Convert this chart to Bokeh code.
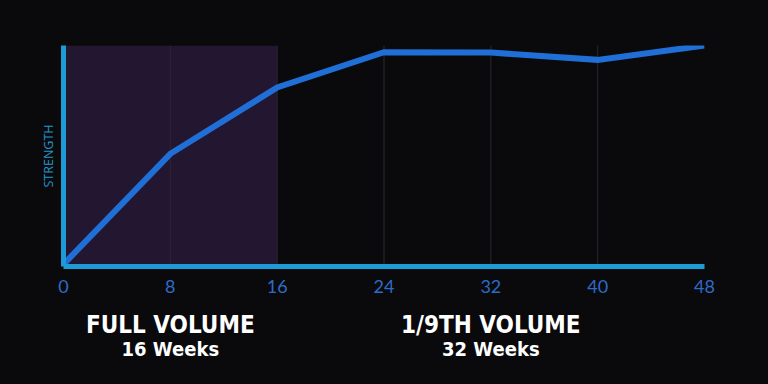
from bokeh.plotting import figure
from bokeh.layouts import column
from bokeh.models import FixedTicker, Range1d
from bokeh.core.properties import value
from bokeh.embed import file_html
from bokeh.resources import INLINE

weeks = [0, 8, 16, 24, 32, 40, 48]
strength = [1, 51, 81, 97, 96.8, 93.5, 100]
tick_labels = ["0", "8", "16", "24", "32", "40", "48"]
grid_weeks = [8, 16, 24, 32, 40]
phase_start = [0]
phase_end = [16]
phase_names = ["FULL VOLUME", "1/9TH VOLUME"]
phase_durations = ["16 Weeks", "32 Weeks"]
phase_centers = [8, 32]

BG = "#0a0a0c"
AXIS = "#1e9ad6"
LINE = "#1f6fd6"
PURPLE = "#231630"

xr = Range1d(0, 48)
p = figure(width=768, height=300, output_backend="svg", toolbar_location=None,
           x_range=xr, y_range=Range1d(0, 100),
           min_border_left=63, min_border_right=64, min_border_top=45, min_border_bottom=34)
p.background_fill_color = BG
p.border_fill_color = BG
p.outline_line_color = None
p.xgrid.visible = False
p.ygrid.visible = False

p.quad(left=phase_start, right=phase_end, bottom=[0], top=[100], fill_color=PURPLE, line_color=None)
p.segment(x0=grid_weeks, x1=grid_weeks, y0=[0]*len(grid_weeks), y1=[100]*len(grid_weeks),
          line_color="#2a2830", line_width=1)
p.line(weeks, strength, line_color=LINE, line_width=6, line_join="miter")

p.xaxis.ticker = FixedTicker(ticks=weeks)
p.xaxis.major_label_overrides = {w: t for w, t in zip(weeks, tick_labels)}
p.xaxis.axis_line_color = AXIS
p.xaxis.axis_line_width = 5
p.xaxis.major_tick_line_color = None
p.xaxis.minor_tick_line_color = None
p.xaxis.major_label_text_color = "#2c6cc8"
p.xaxis.major_label_text_font = "Lato"
p.xaxis.major_label_text_font_size = "18px"
p.xaxis.major_label_standoff = 7

p.yaxis.ticker = FixedTicker(ticks=[])
p.yaxis.axis_line_color = AXIS
p.yaxis.axis_line_width = 5
p.yaxis.major_tick_line_color = None
p.yaxis.minor_tick_line_color = None
p.yaxis.axis_label = "STRENGTH"
p.yaxis.axis_label_text_color = "#2096cc"
p.yaxis.axis_label_text_font = "Open Sans"
p.yaxis.axis_label_text_font_style = "normal"
p.yaxis.axis_label_text_font_size = "12.5px"
p.yaxis.axis_label_standoff = 7

p2 = figure(width=768, height=84, output_backend="svg", toolbar_location=None,
            x_range=xr, y_range=Range1d(0, 84),
            min_border_left=63, min_border_right=64, min_border_top=0, min_border_bottom=0)
p2.background_fill_color = BG
p2.border_fill_color = BG
p2.outline_line_color = None
p2.axis.visible = False
p2.grid.visible = False
p2.text(x=phase_centers, y=[60, 60], text=phase_names, text_align="center", text_baseline="middle",
        text_color="white", text_font=value("DejaVu Sans Condensed"), text_font_style="bold",
        text_font_size="24px")
p2.text(x=phase_centers, y=[36, 36], text=phase_durations, text_align="center", text_baseline="middle",
        text_color="white", text_font=value("DejaVu Sans Condensed"), text_font_style="bold",
        text_font_size="20px")

layout = column(p, p2, spacing=0, styles={"background": BG})
html = file_html(layout, INLINE)
html = html.replace("<head>", "<head><style>html,body{background:#0a0a0c;}</style>", 1)
open("out.html", "w").write(html)
